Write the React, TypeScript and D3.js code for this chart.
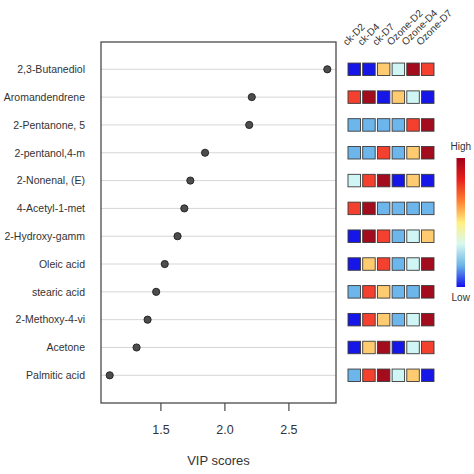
import React from "react";
import * as d3 from "d3";

// VIP scores of the top compounds, listed top to bottom
const compounds = [
  "2,3-Butanediol",
  "Aromandendrene",
  "2-Pentanone, 5",
  "2-pentanol,4-m",
  "2-Nonenal, (E)",
  "4-Acetyl-1-met",
  "2-Hydroxy-gamm",
  "Oleic acid",
  "stearic acid",
  "2-Methoxy-4-vi",
  "Acetone",
  "Palmitic acid",
];
const vipScores = [2.8, 2.21, 2.19, 1.845, 1.73, 1.683, 1.63, 1.53, 1.463, 1.396, 1.31, 1.1];

// Treatment groups of the relative abundance heatmap
const groups = ["ck-D2", "ck-D4", "ck-D7", "Ozone-D2", "Ozone-D4", "Ozone-D7"];

// Relative abundance level per compound and group (1 = low ... 6 = high)
const levels = [
  [1, 1, 4, 3, 6, 5],
  [5, 6, 1, 4, 3, 1],
  [2, 2, 2, 2, 5, 6],
  [2, 2, 5, 2, 4, 6],
  [3, 5, 6, 1, 4, 1],
  [5, 6, 2, 2, 2, 2],
  [1, 6, 5, 2, 3, 4],
  [1, 4, 5, 2, 3, 6],
  [2, 5, 4, 2, 2, 6],
  [1, 5, 4, 2, 3, 6],
  [1, 4, 6, 1, 3, 5],
  [2, 5, 6, 3, 4, 1],
];

const xTicks = [1.5, 2.0, 2.5];
const levelColors = ["#1616E8", "#6DB6EC", "#CFF5F4", "#FECB70", "#F3402F", "#A30C1C"];
const rampColors = ["#1010F0", "#6CB4E6", "#D8F8F0", "#FFF080", "#FF8030", "#E8201C", "#A00018"];

export default function App() {
  const W = 474;
  const H = 474;
  const plot = { left: 101, right: 336, top: 42, bottom: 403 };

  const x = d3.scaleLinear().domain([1.032, 2.868]).range([plot.left, plot.right]);
  const y = d3.scalePoint<string>().domain(compounds).range([69.3, 375.3]);
  const hx = d3.scaleBand<string>().domain(groups).range([348, 434]).paddingInner(0.15).paddingOuter(0);
  const color = d3.scaleOrdinal<number, string>().domain([1, 2, 3, 4, 5, 6]).range(levelColors);

  const bw = hx.bandwidth();
  const font = "'Liberation Sans', Arial, Helvetica, sans-serif";
  const legend = { x: 456.5, y0: 158, y1: 287, w: 8.5 };

  return (
    <svg
      width={W}
      height={H}
      viewBox={`0 0 ${W} ${H}`}
      style={{ position: "absolute", left: 0, top: 0, background: "#fff" }}
      fontFamily={font}
    >
      <defs>
        <linearGradient id="ramp" x1="0" y1="1" x2="0" y2="0">
          {rampColors.map((c, i) => (
            <stop key={i} offset={i / (rampColors.length - 1)} stopColor={c} />
          ))}
        </linearGradient>
      </defs>

      {/* row guide lines */}
      {compounds.map((c) => (
        <line
          key={"g" + c}
          x1={plot.left}
          x2={plot.right}
          y1={y(c)}
          y2={y(c)}
          stroke="#d6d6d6"
          strokeWidth={1}
        />
      ))}

      {/* plot frame */}
      <rect
        x={plot.left}
        y={plot.top}
        width={plot.right - plot.left}
        height={plot.bottom - plot.top}
        fill="none"
        stroke="#4a4a4a"
        strokeWidth={1.3}
      />

      {/* VIP points */}
      {compounds.map((c, i) => (
        <circle key={"p" + c} cx={x(vipScores[i])} cy={y(c)} r={3.6} fill="#4d4d4d" stroke="#1e1e1e" strokeWidth={0.9} />
      ))}

      {/* compound labels */}
      {compounds.map((c) => (
        <text key={"l" + c} x={85} y={(y(c) as number) + 3.8} textAnchor="end" fontSize={10.5} fill="#333">
          {c}
        </text>
      ))}

      {/* x axis */}
      {xTicks.map((t) => (
        <g key={"t" + t}>
          <line x1={x(t)} x2={x(t)} y1={plot.bottom} y2={plot.bottom + 8} stroke="#4a4a4a" strokeWidth={1.2} />
          <text x={x(t)} y={434} textAnchor="middle" fontSize={12.5} fill="#333">
            {t.toFixed(1)}
          </text>
        </g>
      ))}
      <text x={(plot.left + plot.right) / 2} y={465} textAnchor="middle" fontSize={13} fill="#333">
        VIP scores
      </text>

      {/* heatmap cells */}
      {compounds.map((c, i) =>
        groups.map((g, j) => (
          <rect
            key={"h" + i + "-" + j}
            x={hx(g)}
            y={(y(c) as number) - bw / 2}
            width={bw}
            height={bw}
            fill={color(levels[i][j])}
            stroke="#3a3a3a"
            strokeWidth={0.9}
          />
        ))
      )}

      {/* group labels */}
      {groups.map((g) => {
        const gx = (hx(g) as number) - 1;
        const gy = 46;
        return (
          <text
            key={"c" + g}
            x={gx}
            y={gy}
            fontSize={10}
            fill="#333"
            transform={`rotate(-45 ${gx} ${gy})`}
          >
            {g}
          </text>
        );
      })}

      {/* colour key */}
      <rect x={legend.x} y={legend.y0} width={legend.w} height={legend.y1 - legend.y0} fill="url(#ramp)" />
      <text x={legend.x + legend.w / 2} y={150} textAnchor="middle" fontSize={10} fill="#333">
        High
      </text>
      <text x={legend.x + legend.w / 2} y={301} textAnchor="middle" fontSize={10} fill="#333">
        Low
      </text>
    </svg>
  );
}
